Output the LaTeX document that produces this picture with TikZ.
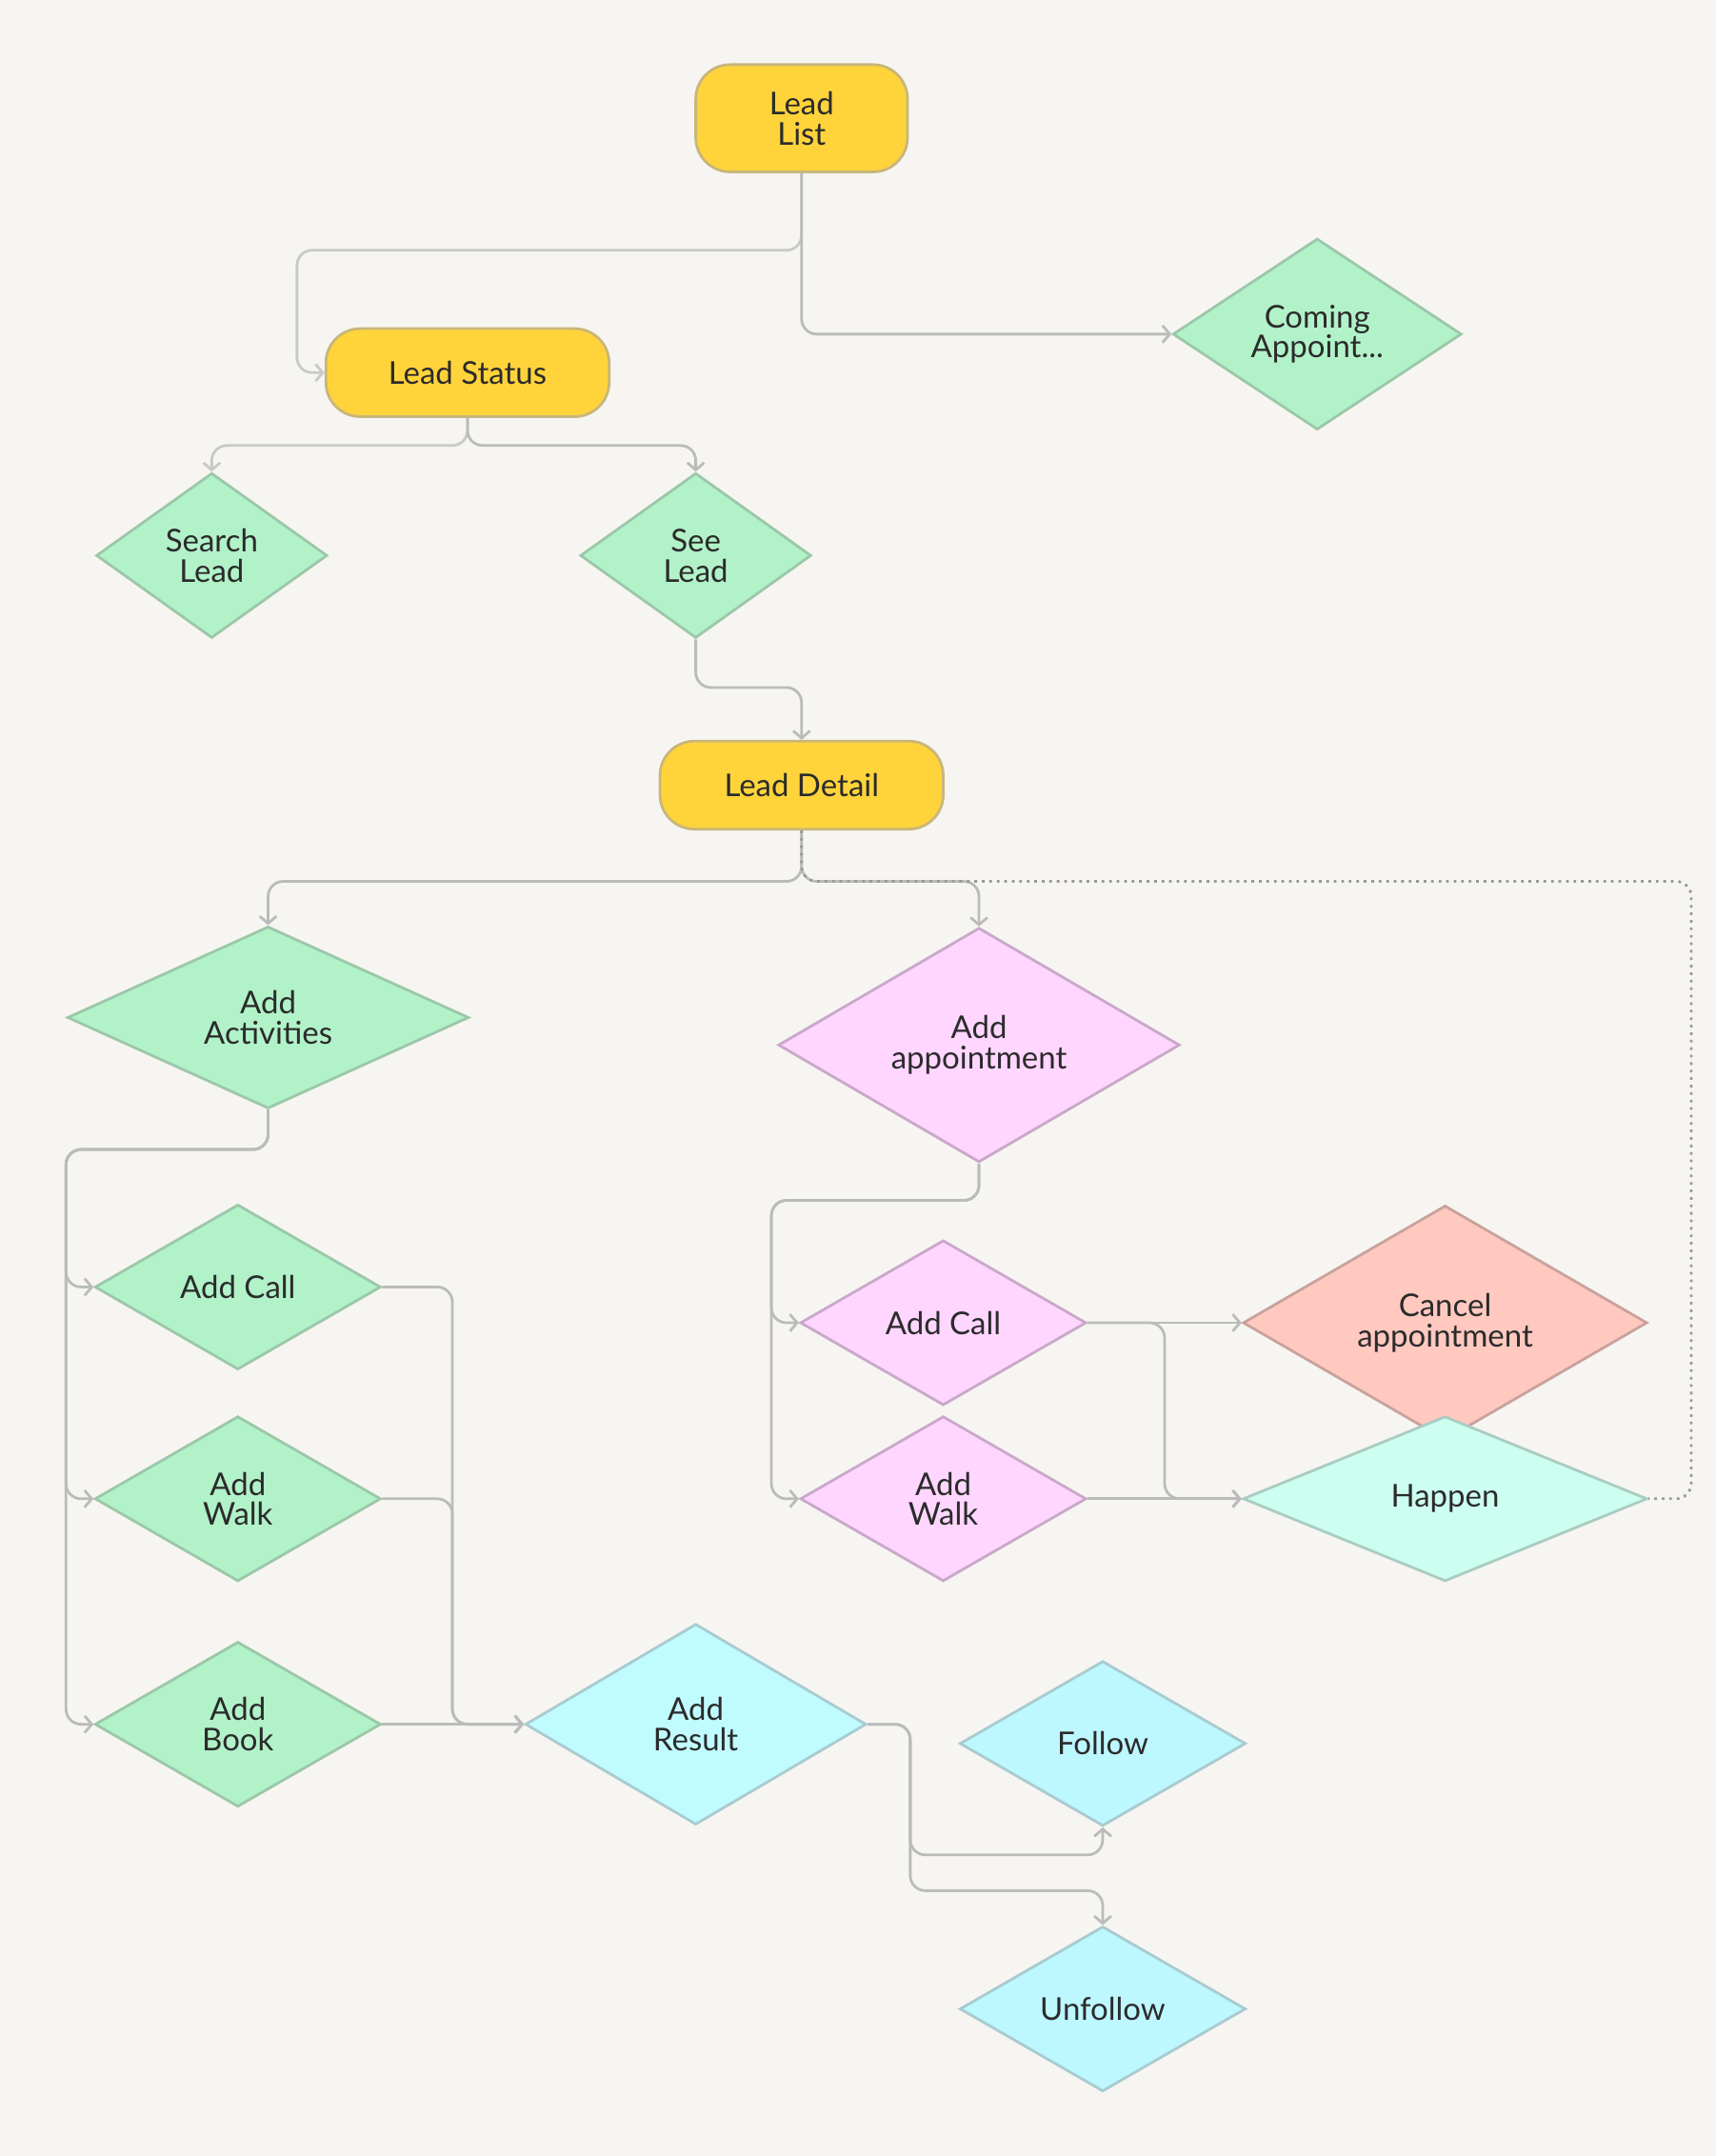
\documentclass[tikz,border=0pt]{standalone}
\usepackage{fontspec}
\setmainfont{Lato}
\usetikzlibrary{shapes.geometric,arrows.meta}
\definecolor{bg}{HTML}{F6F5F1}
\definecolor{yel}{HTML}{FFD43B}
\definecolor{yelb}{HTML}{C9B679}
\definecolor{grn}{HTML}{B2F2C9}
\definecolor{grnb}{HTML}{9CC7A9}
\definecolor{pnk}{HTML}{FFD6FF}
\definecolor{pnkb}{HTML}{C9A8C9}
\definecolor{cyn}{HTML}{C0FBFF}
\definecolor{cynb}{HTML}{A9CBCF}
\definecolor{sal}{HTML}{FFC9C0}
\definecolor{salb}{HTML}{C9A29C}
\definecolor{mnt}{HTML}{CCFFF0}
\definecolor{mntb}{HTML}{AACCC2}
\definecolor{ln}{HTML}{BBBBBB}
\tikzset{
  every node/.style={font=\fontsize{13}{12.5}\selectfont\color[HTML]{2B2B2B}, align=center},
  term/.style={draw=yelb, fill=yel, line width=1.1pt, rounded corners=0.5cm, minimum width=#1*0.02cm, minimum height=1.28cm},
  dia/.style 2 args={shape=diamond, draw, line width=1.1pt, inner sep=0pt, minimum width=#1*0.02cm, minimum height=#2*0.02cm},
  g/.style={fill=grn, draw=grnb}, p/.style={fill=pnk, draw=pnkb}, c/.style={fill=cyn, draw=cynb},
  conn/.style={draw=ln, line width=1.1pt, rounded corners=0.22cm, -{Straight Barb[length=3pt,width=7pt]}},
}
\begin{document}
\begin{tikzpicture}[x=0.02cm,y=-0.02cm]
\fill[bg] (0,0) rectangle (1248,1568);
\useasboundingbox (0,0) rectangle (1248,1568);
\node[term=154, minimum height=1.56cm] (ll) at (583,86) {Lead\\List};
\node[term=206] (ls) at (340,271) {Lead Status};
\node[dia={210}{120}, g] (ca) at (958,243) {Coming\\Appoint...};
\node[dia={168}{120}, g] (sl) at (154,404) {Search\\Lead};
\node[dia={168}{120}, g] (se) at (506,404) {See\\Lead};
\node[term=206] (ld) at (583,571) {Lead Detail};
\node[dia={292}{118}, g] (aa) at (195,740) {Add\\Activities};
\node[dia={292}{166}, p] (ap) at (712,760) {Add\\appointment};
\node[dia={208}{120}, g] (c1) at (173,936) {Add Call};
\node[dia={208}{120}, g] (w1) at (173,1090) {Add\\Walk};
\node[dia={208}{120}, g] (b1) at (173,1254) {Add\\Book};
\node[dia={248}{146}, c] (ar) at (506,1254) {Add\\Result};
\node[dia={208}{120}, c, fill=cyn!85!blue!10!cyn] (fo) at (802,1268) {Follow};
\node[dia={208}{120}, c, fill=cyn!85!blue!10!cyn] (uf) at (802,1461) {Unfollow};
\node[dia={208}{120}, p] (c2) at (686,962) {Add Call};
\node[dia={208}{120}, p] (w2) at (686,1090) {Add\\Walk};
\node[dia={294}{120}, fill=sal, draw=salb] (cn) at (1051,962) {Cancel\\appointment};
\node[dia={294}{120}, fill=mnt, draw=mntb] (hp) at (1051,1090) {Happen};

\draw[conn, draw=ln!80] (ll.south) |- (216,182) |- (ls.west);
\draw[conn] (ll.south) |- (ca.west);
\draw[conn, draw=ln!80] (ls.south) |- (154,324) -- (sl.north);
\draw[conn] (ls.south) |- (506,324) -- (se.north);
\draw[conn] (se.south) |- (583,500) -- (ld.north);
\draw[conn] (ld.south) |- (195,641) -- (aa.north);
\draw[conn] (ld.south) |- (712,641) -- (ap.north);
\draw[draw=gray!80, line width=1.1pt, dotted, rounded corners=0.22cm] (ld.south) |- (1230,641) |- (hp.east);
\draw[conn] (aa.south) |- (48,836) |- (c1.west);
\draw[conn] (aa.south) |- (48,836) |- (w1.west);
\draw[conn] (aa.south) |- (48,836) |- (b1.west);
\draw[conn] (c1.east) -| (329,1254) -- (ar.west);
\draw[conn] (w1.east) -| (329,1254) -- (ar.west);
\draw[conn] (b1.east) -- (ar.west);
\draw[conn] (ar.east) -| (662,1349) -| (fo.south);
\draw[conn] (ar.east) -| (662,1375) -| (uf.north);
\draw[conn] (ap.south) |- (561,873) |- (c2.west);
\draw[conn] (ap.south) |- (561,873) |- (w2.west);
\draw[conn] (c2.east) -- (cn.west);
\draw[conn] (c2.east) -| (847,1090) -- (hp.west);
\draw[conn] (w2.east) -- (hp.west);
\end{tikzpicture}
\end{document}
